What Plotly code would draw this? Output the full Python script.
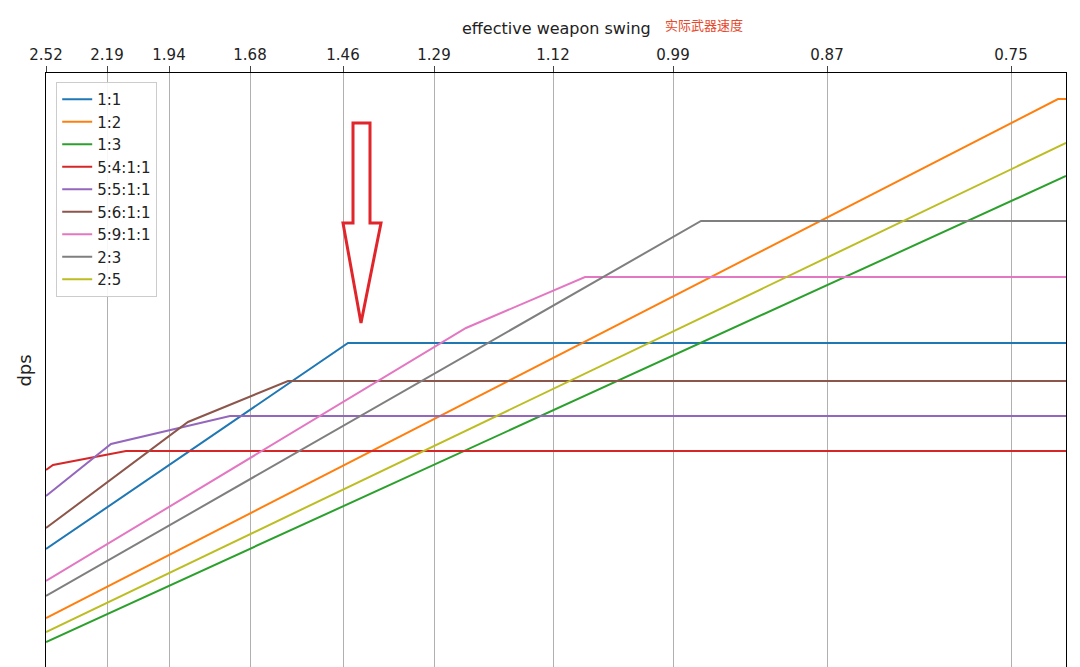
import plotly.graph_objects as go

tick_pos = [0, 61, 123, 204, 297, 388, 507, 627, 781, 965]
tick_labels = ["2.52", "2.19", "1.94", "1.68", "1.46", "1.29", "1.12", "0.99", "0.87", "0.75"]

names = ["1:1", "1:2", "1:3", "5:4:1:1", "5:5:1:1", "5:6:1:1", "5:9:1:1", "2:3", "2:5"]
colors = ["#1f77b4", "#ff7f0e", "#2ca02c", "#d62728", "#9467bd", "#8c564b", "#e377c2", "#7f7f7f", "#bcbd22"]
xs = [
    [0, 302, 1020],
    [0, 1012, 1020],
    [0, 1020],
    [0, 7, 80, 1020],
    [0, 65, 184, 1020],
    [0, 142, 242, 1020],
    [0, 420, 539, 1020],
    [0, 655, 1020],
    [0, 1020],
]
ys = [
    [119, 325, 325],
    [50, 569, 569],
    [26, 492],
    [198, 203, 217, 217],
    [172, 224, 252, 252],
    [140, 246, 287, 287],
    [87, 340, 391, 391],
    [72, 447, 447],
    [36, 525],
]

fig = go.Figure()
for n, c, x, y in zip(names, colors, xs, ys):
    fig.add_trace(go.Scatter(x=x, y=y, mode="lines", name=n, line=dict(color=c, width=2)))

# red arrow (hand-drawn annotation)
fig.add_shape(type="path", xref="x", yref="y",
              path="M 307 545 L 324 545 L 324 445 L 335 445 L 315 345 L 297 445 L 307 445 Z",
              line=dict(color="#e0252b", width=3), fillcolor="rgba(0,0,0,0)")

fig.add_annotation(text="effective weapon swing", xref="paper", yref="paper", x=0.5, y=1.0,
                   yanchor="middle", yshift=45, showarrow=False, font=dict(size=16, color="#222"))
fig.add_annotation(text="实际武器速度", xref="paper", yref="paper", x=0.685, y=1.0, yanchor="middle",
                   yshift=49, showarrow=False,
                   font=dict(size=13, color="#e8482b", family="Noto Sans CJK SC"))

fig.update_layout(
    width=1080, height=667, margin=dict(l=38, r=22, t=65, b=7, pad=0),
    plot_bgcolor="white", paper_bgcolor="white",
    font=dict(family="DejaVu Sans", size=15, color="#222"),
    showlegend=True,
    legend=dict(x=0.01, y=0.985, xanchor="left", yanchor="top", bordercolor="#ccc",
                borderwidth=1, bgcolor="rgba(255,255,255,0.9)", font=dict(size=15), tracegroupgap=0),
    xaxis=dict(range=[0, 1020], side="top", tickvals=tick_pos, ticktext=tick_labels,
               showgrid=True, gridcolor="#b0b0b0", gridwidth=1, zeroline=False, automargin=False,
               showline=True, linecolor="black", mirror="ticks", ticks="outside", ticklen=6,
               tickfont=dict(size=15)),
    yaxis=dict(range=[0, 595], showticklabels=False, showgrid=False, zeroline=False, automargin=False,
               showline=True, linecolor="black", mirror=True, title=dict(text="dps", standoff=8)),
)
fig.write_html("out.html")
